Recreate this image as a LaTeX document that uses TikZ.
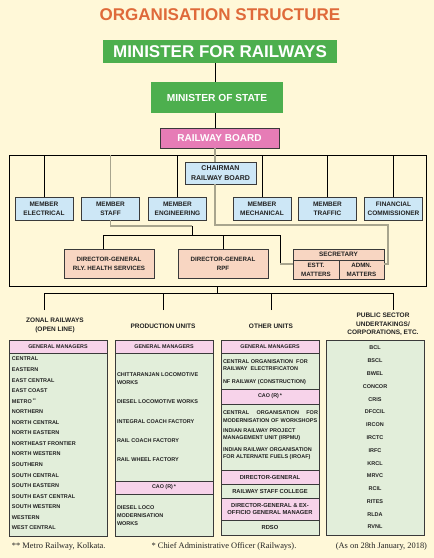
\documentclass[tikz,border=0pt]{standalone}
\usepackage{fontspec}
\setmainfont{Liberation Sans}
\newfontfamily\footserif{Liberation Serif}
\usepackage{tikz}
\definecolor{cream}{HTML}{FFF8D8}
\definecolor{titleorange}{HTML}{DF6A3A}
\definecolor{mingreen}{HTML}{4DAF4E}
\definecolor{boardpink}{HTML}{E67CB6}
\definecolor{memberblue}{HTML}{CDE7F6}
\definecolor{dgsalmon}{HTML}{F8D6C2}
\definecolor{headpink}{HTML}{F7D3EA}
\definecolor{unitgreen}{HTML}{E2EEDA}
\definecolor{linegrey}{HTML}{A8A58E}
\definecolor{edgegrey}{HTML}{3A3A3A}
\definecolor{inkgrey}{HTML}{222222}
\newcommand{\sizeat}[2]{\fontsize{#1}{#2}\selectfont}

\begin{document}
\begin{tikzpicture}[x=1pt,y=-1pt,
  every node/.style={inner sep=0pt,outer sep=0pt,text=inkgrey},
  blackline/.style={draw=black,line width=0.9pt},
  greyline/.style={draw=linegrey,line width=1.3pt},
  thinedge/.style={draw=edgegrey,line width=0.6pt},
  minbox/.style={fill=mingreen,text=white},
  memberbox/.style={thinedge,fill=memberblue,minimum width=58,minimum height=23,align=center,font=\bfseries\sizeat{6.5}{8.6}},
  dgbox/.style={thinedge,fill=dgsalmon,minimum width=90,minimum height=29,align=center,font=\bfseries\sizeat{6.2}{9}},
  unitbox/.style={thinedge,fill=unitgreen,minimum width=98},
  headrow/.style={thinedge,fill=headpink,minimum width=98,align=center,font=\bfseries\sizeat{5.4}{6.8}},
  plainrow/.style={thinedge,fill=unitgreen,minimum width=98,align=center,font=\bfseries\sizeat{5.4}{6.8}},
  unititem/.style={anchor=west,align=left,font=\bfseries\sizeat{5.5}{7.4}},
  psuitem/.style={font=\bfseries\sizeat{5.5}{6.5}},
  coltitle/.style={align=center,font=\bfseries\sizeat{6.5}{8.6}},
  footline/.style={font=\footserif\sizeat{8.4}{10}}]
\useasboundingbox (0,0) rectangle (434,558);
\fill[cream] (0,0) rectangle (434,558);

\node[font=\bfseries\sizeat{17}{17},text=titleorange] (title) at (220,15) {ORGANISATION STRUCTURE};
\node[minbox,minimum width=234,minimum height=23,font=\bfseries\sizeat{17}{17}] (mfr) at (220,51.5) {MINISTER FOR RAILWAYS};
\node[minbox,minimum width=132,minimum height=31,font=\bfseries\sizeat{10.2}{12}] (mos) at (217,97.5) {MINISTER OF STATE};
\node[thinedge,fill=boardpink,text=white,minimum width=119,minimum height=20,font=\bfseries\sizeat{10}{12}] (rb) at (219.5,138) {RAILWAY BOARD};

\node[draw=black,line width=0.9pt,minimum width=417,minimum height=131] (board) at (217.5,220.5) {};
\node[memberbox,minimum width=71,minimum height=22,font=\bfseries\sizeat{7}{10}] (chair) at (220.5,173) {CHAIRMAN\\RAILWAY BOARD};
\node[memberbox] (mel) at (44,208.5) {MEMBER\\ELECTRICAL};
\node[memberbox] (mst) at (110.5,208.5) {MEMBER\\STAFF};
\node[memberbox] (men) at (177.5,208.5) {MEMBER\\ENGINEERING};
\node[memberbox] (mme) at (262,208.5) {MEMBER\\MECHANICAL};
\node[memberbox] (mtr) at (327.5,208.5) {MEMBER\\TRAFFIC};
\node[memberbox] (fc) at (393.5,208.5) {FINANCIAL\\COMMISSIONER};
\node[dgbox] (dgh) at (109,263.5) {DIRECTOR-GENERAL\\RLY. HEALTH SERVICES};
\node[dgbox] (dgr) at (223,263.5) {DIRECTOR-GENERAL\\RPF};
\node[thinedge,fill=dgsalmon,minimum width=91,minimum height=30] (secr) at (338.5,264) {};
\coordinate (secsplit) at (339,260);
\draw[thinedge] (secr.west |- secsplit) -- (secr.east |- secsplit);
\draw[thinedge] (secsplit) -- (secsplit |- secr.south);
\node[font=\bfseries\sizeat{6.4}{8}] (secrt) at (338.5,254.5) {SECRETARY};
\node[align=center,font=\bfseries\sizeat{6.2}{9}] (estt) at (316,269.5) {ESTT.\\MATTERS};
\node[align=center,font=\bfseries\sizeat{6.2}{9}] (admn) at (361.5,269.5) {ADMN.\\MATTERS};

\coordinate (spine) at (215,0);
\coordinate (loopr) at (388,225);
\coordinate (drop) at (192,226);
\coordinate (busl) at (103,235);
\coordinate (busr) at (280,235);
\draw[blackline] (mfr.south -| spine) -- (mos.north -| spine);
\draw[blackline] (mos.south -| spine) -- (rb.north -| spine);
\draw[greyline] (rb.south -| spine) -- (chair.north -| spine);
\draw[greyline] (chair.south -| spine) |- (loopr) |- (secr.east);
\foreach \m in {mel,men,mme,mtr,fc}
  \draw[blackline] (\m.north) -- (\m.north |- board.north);
\draw[greyline] (mst.north) -- (mst.north |- board.north);
\draw[greyline] (mst.south) |- (drop);
\draw[blackline] (drop) -- (drop |- busl);
\draw[blackline] (busl) -- (busr);
\draw[blackline] (busl) -- (busl |- dgh.north);
\draw[blackline] (dgr.north) -- (dgr.north |- busl);
\draw[blackline] (busr) -- (busr |- secr.west);
\draw[greyline] (busr |- secr.west) -- (secr.west);

\coordinate (lowbus) at (217,293);
\coordinate (dz) at (44,310);
\coordinate (dp) at (163,310);
\coordinate (do) at (271,310);
\coordinate (ds) at (393,310);
\draw[blackline] (board.south -| lowbus) -- (lowbus);
\draw[blackline] (dz) -- (dz |- lowbus) -- (ds |- lowbus) -- (ds);
\draw[blackline] (dp) -- (dp |- lowbus);
\draw[blackline] (do) -- (do |- lowbus);

\node[coltitle] (hzonal) at (55,325.5) {ZONAL RAILWAYS\\(OPEN LINE)};
\node[coltitle] (hprod) at (163,326) {PRODUCTION UNITS};
\node[coltitle] (hother) at (271,326) {OTHER UNITS};
\node[coltitle] (hpsu) at (383,324.5) {PUBLIC SECTOR\\UNDERTAKINGS/\\CORPORATIONS, ETC.};

\node[unitbox,minimum height=196] (zonal) at (58,438) {};
\node[headrow,minimum height=13,anchor=north] (zgm) at (zonal.north) {GENERAL MANAGERS};
\foreach \zone [count=\i from 0] in {CENTRAL,EASTERN,EAST CENTRAL,EAST COAST,{METRO\,\textsuperscript{**}},NORTHERN,NORTH CENTRAL,NORTH EASTERN,NORTHEAST FRONTIER,NORTH WESTERN,SOUTHERN,SOUTH CENTRAL,SOUTH EASTERN,SOUTH EAST CENTRAL,SOUTH WESTERN,WESTERN,WEST CENTRAL}
  \node[unititem] (zone\i) at (12,{359+10.56*\i}) {\zone};

\node[unitbox,minimum height=196] (prod) at (164,438) {};
\node[headrow,minimum height=13,anchor=north] (pgm) at (prod.north) {GENERAL MANAGERS};
\node[headrow,minimum height=13] (pcao) at (164,487.5) {CAO (R)\,*};
\node[unititem] (clw) at (117,378.5) {CHITTARANJAN LOCOMOTIVE\\WORKS};
\node[unititem] (dlw) at (117,402) {DIESEL LOCOMOTIVE WORKS};
\node[unititem] (icf) at (117,421.5) {INTEGRAL COACH FACTORY};
\node[unititem] (rcf) at (117,440.7) {RAIL COACH FACTORY};
\node[unititem] (rwf) at (117,460) {RAIL WHEEL FACTORY};
\node[unititem,font=\bfseries\sizeat{5.5}{8}] (dmw) at (117,516) {DIESEL LOCO\\MODERNISATION\\WORKS};

\node[unitbox,minimum height=195] (other) at (270,437.5) {};
\node[headrow,minimum height=13,anchor=north] (ogm) at (other.north) {GENERAL MANAGERS};
\node[headrow,minimum height=15] (ocao) at (270,396.5) {CAO (R)\,*};
\node[headrow,minimum height=14,font=\bfseries\sizeat{5.8}{7}] (odg) at (270,477) {DIRECTOR-GENERAL};
\node[plainrow,minimum height=14,font=\bfseries\sizeat{5.8}{7}] (osc) at (270,491) {RAILWAY STAFF COLLEGE};
\node[headrow,minimum height=22,font=\bfseries\sizeat{5.8}{7}] (odgx) at (270,509) {DIRECTOR-GENERAL \& EX-\\OFFICIO GENERAL MANAGER};
\node[plainrow,minimum height=15,font=\bfseries\sizeat{5.8}{7}] (ordso) at (270,527.5) {RDSO};
\node[unititem,font=\bfseries\sizeat{5.5}{6.6}] (core) at (223,364.8) {CENTRAL ORGANISATION\ \ FOR\\RAILWAY\ \ ELECTRIFICATON};
\node[unititem] (nfc) at (223,382) {NF RAILWAY (CONSTRUCTION)};
\node[unititem,text width=95] (cofmow) at (223,416.5) {CENTRAL\hfill ORGANISATION\hfill FOR\\MODERNISATION OF WORKSHOPS};
\node[unititem] (irpmu) at (223,434.5) {INDIAN RAILWAY PROJECT\\MANAGEMENT UNIT (IRPMU)};
\node[unititem] (iroaf) at (223,453.5) {INDIAN RAILWAY ORGANISATION\\FOR ALTERNATE FUELS (IROAF)};

\node[unitbox,minimum height=195] (psubox) at (375,437.5) {};
\foreach \psu [count=\i from 0] in {BCL,BSCL,BWEL,CONCOR,CRIS,DFCCIL,IRCON,IRCTC,IRFC,KRCL,MRVC,RCIL,RITES,RLDA,RVNL}
  \node[psuitem] (psu\i) at (375,{348+12.79*\i}) {\psu};

\node[footline,anchor=west] (fmetro) at (12,546) {** Metro Railway, Kolkata.};
\node[footline] (fcao) at (224,546) {* Chief Administrative Officer (Railways).};
\node[footline,anchor=east] (fdate) at (427,546) {(As on 28th January, 2018)};
\end{tikzpicture}
\end{document}
